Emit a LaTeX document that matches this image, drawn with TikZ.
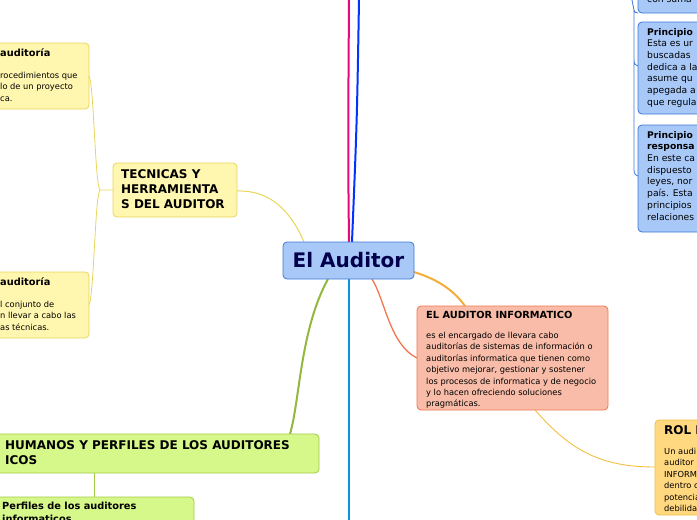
\documentclass[tikz,border=0pt]{standalone}
\usepackage{fontspec}
\setmainfont{DejaVu Sans}
\begin{document}
\begin{tikzpicture}[x=1pt,y=-1pt,
  box/.style={draw,rounded corners=4pt,line width=0.8pt},
  yel/.style={box,fill=yelF,draw=yelD},
  blu/.style={box,fill=bluF,draw=bluD},
  t/.style={anchor=north west,inner sep=0pt,align=left,font=\fontsize{8.3}{11.4}\selectfont},
  tb/.style={t,font=\fontsize{9.8}{12.5}\selectfont\bfseries},
  big/.style={t,font=\fontsize{12}{15}\selectfont\bfseries},
  bt/.style={t,font=\fontsize{9.2}{11.7}\selectfont},
  con/.style={line width=2pt}]
\definecolor{yelF}{HTML}{FFF6B0}\definecolor{yelD}{HTML}{E8D65A}
\definecolor{bluF}{HTML}{A8C8F8}\definecolor{bluD}{HTML}{3D78D8}
\definecolor{grnF}{HTML}{D6F78A}\definecolor{grnD}{HTML}{A2CC44}
\definecolor{redF}{HTML}{F8BCA8}\definecolor{redD}{HTML}{F07850}
\definecolor{orF}{HTML}{FFD880}\definecolor{orD}{HTML}{F2C040}
\useasboundingbox (0,0) rectangle (697,520);
\clip (0,0) rectangle (697,520);
% connectors
\coordinate (ctop1) at (349,0);
\coordinate (ctop2) at (359,0);
\coordinate (cbot) at (349,520);
\draw[con,draw=magenta!80!red] (349,242) .. controls (348,150) .. (ctop1);
\draw[con,draw=blue!80!cyan] (352,242) .. controls (357,120) .. (ctop2);
\draw[line width=1.2pt,draw=cyan!80!blue] (349,279) -- (cbot);
\draw[con,draw=grnD!90!black] (328,279) .. controls (300,330) and (300,400) .. (290,434);
\draw[con,draw=orD!90!red] (414,272) .. controls (440,280) and (455,292) .. (465,306);
\draw[line width=1.3pt,draw=redD] (372,279) .. controls (385,300) and (390,345) .. (417,358);
\draw[line width=0.9pt,draw=orD] (535,410) .. controls (570,450) and (600,467) .. (655,467);
\draw[line width=1pt,draw=yelD] (304,242) .. controls (290,210) and (270,190) .. (237,191);
\draw[line width=0.8pt,draw=yelD] (113,190) -- (100,190)
  (100,190) .. controls (95,185) and (94,85) .. (89,76)
  (100,190) .. controls (95,195) and (94,295) .. (89,305);
\draw[line width=0.8pt,draw=bluD] (632,0) -- (634,10) .. controls (634,12) and (636,13) .. (638,13)
  (634,10) -- (634,60) .. controls (634,64) and (636,66) .. (638,66)
  (634,60) -- (634,170) .. controls (634,174) and (636,176) .. (638,176);
\draw[line width=0.8pt,draw=grnD] (94,473) -- (94,497);
% boxes
\node[blu,minimum width=131,minimum height=37,inner sep=0pt,font=\fontsize{20}{22}\selectfont\bfseries,text=blue!30!black] (main) at (348.5,260.5) {El Auditor};
\node[yel,minimum width=124,minimum height=54] (tec) at (175,190) {};
\node[big] at (121,169) {TECNICAS Y\\HERRAMIENTA\\S DEL AUDITOR};
\draw[yel] (-100,43) rectangle (89,109);
\node[tb] (ta) at (0,48) {auditoría};
\node[t] (tab) at (0,72) {rocedimientos que\\lo de un proyecto\\ca.};
\draw[yel] (-100,272) rectangle (89,338);
\node[tb] (tb2) at (0,277) {auditoría};
\node[t] (tbb) at (0,301) {l conjunto de\\n llevar a cabo las\\as técnicas.};
\draw[box,fill=grnF,draw=grnD] (-10,434) rectangle (319,473);
\node[big] (gh) at (5,440) {HUMANOS Y PERFILES DE LOS AUDITORES\\ICOS};
\draw[box,fill=grnF,draw=grnD] (-10,497) rectangle (194,540);
\node[tb] (gp) at (2,502) {Perfiles de los auditores\\informaticos};
\draw[box,fill=redF,draw=redD] (417,306) rectangle (608,410);
\node[tb] (rt) at (426,311) {EL AUDITOR INFORMATICO};
\node[t] (rb) at (426,332) {es el encargado de llevara cabo\\auditorías de sistemas de información o\\auditorías informatica que tienen como\\objetivo mejorar, gestionar y sostener\\los procesos de informatica y de negocio\\y lo hacen ofreciendo soluciones\\pragmáticas.};
\draw[box,fill=orF,draw=orD] (655,420) rectangle (710,515);
\node[big] (ot) at (664,425) {ROL I};
\node[t] (ob) at (664,448) {Un audi\\auditor\\INFORM\\dentro c\\potencia\\debilida};
\draw[blu] (638,-10) rectangle (710,13);
\node[bt] (b1) at (647,-3) {con suma};
\draw[blu] (638,22) rectangle (710,114);
\node[bt] (b2) at (647,28) {\textbf{Principio}\\Esta es ur\\buscadas\\dedica a la\\asume qu\\apegada a\\que regula};
\draw[blu] (638,125) rectangle (710,232);
\node[bt] (b3) at (647,131) {\textbf{Principio}\\\textbf{responsa}\\En este ca\\dispuesto\\leyes, nor\\país. Esta\\principios\\relaciones};
\end{tikzpicture}
\end{document}
